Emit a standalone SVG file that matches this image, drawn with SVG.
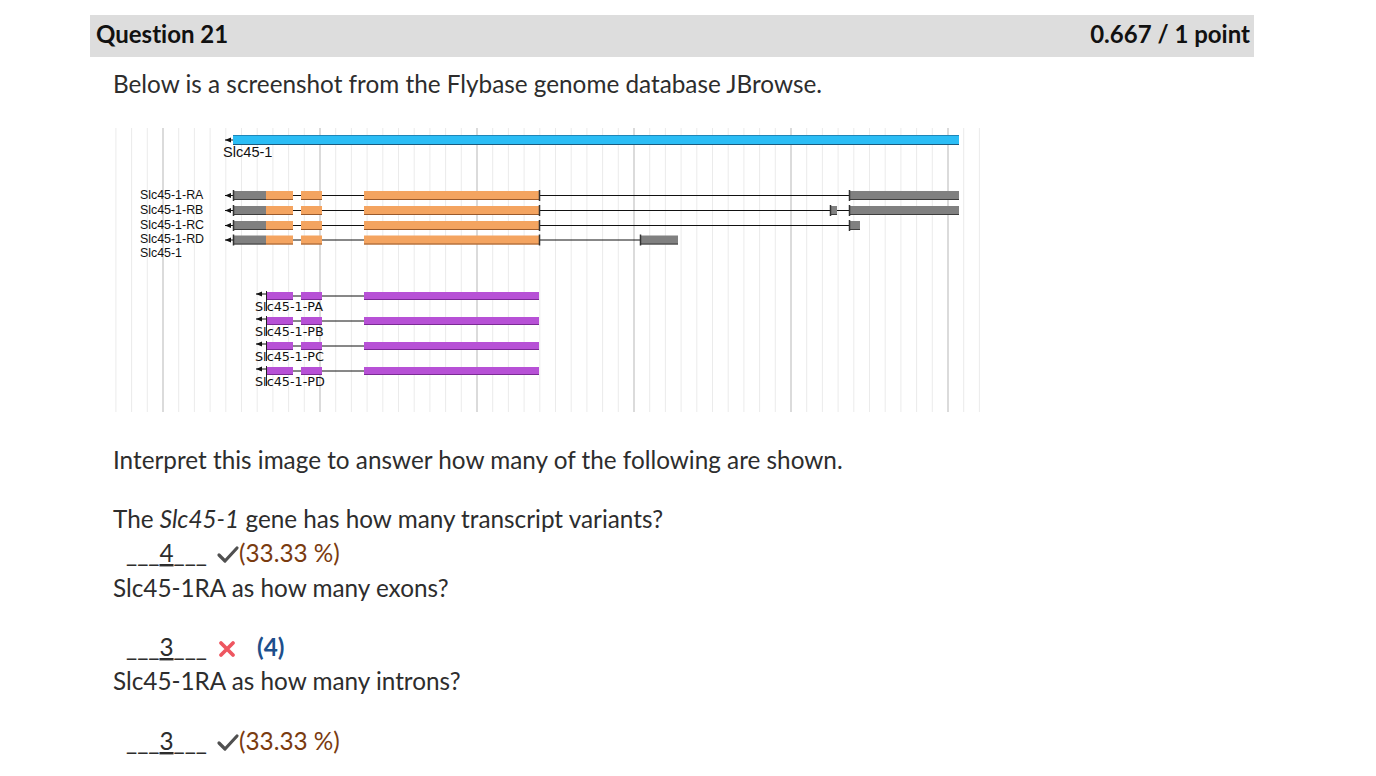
<svg xmlns="http://www.w3.org/2000/svg" width="1376" height="776" viewBox="0 0 1376 776">
<defs>
<style>
.pg{font-family:Lato,"Liberation Sans",sans-serif;font-size:24.3px;fill:#2d2d2d;font-variant-ligatures:none}
.hd{font-family:Lato,"Liberation Sans",sans-serif;font-size:24px;font-weight:bold;fill:#111;font-variant-ligatures:none}
.lbl{font-family:"Liberation Sans",Arial,sans-serif;font-size:12.4px;fill:#111}
.glbl{font-family:"Liberation Sans",Arial,sans-serif;font-size:14.6px;fill:#111}
.plbl{font-family:"DejaVu Sans",sans-serif;font-size:12.8px;fill:#111}
.minor{stroke:#ebebeb;stroke-width:1;fill:none}
.major{stroke:#c4c4c4;stroke-width:1.2;fill:none}
.ln{stroke:#111;stroke-width:1;fill:none}
.cap{stroke:#333;stroke-width:1.5}
.utr{fill:#808080}
.cds{fill:#f4a460}
.pep{fill:#b751d6}
.gene{fill:#2bbdf5}
.ue{stroke:#3d3d3d;stroke-width:1.2}
.ce{stroke:#9a5a2c;stroke-width:1.2}
.pe{stroke:#7b2a95;stroke-width:1.2}
.brown{fill:#7a3b10}
</style>
<marker id="ah" viewBox="0 0 6 6" refX="0" refY="3" markerWidth="6" markerHeight="6" orient="0" markerUnits="userSpaceOnUse">
<path d="M0 3 L6 0.5 L6 5.5 Z" fill="#111"/>
</marker>
</defs>
<rect width="1376" height="776" fill="#fff"/>

<g id="header">
<rect x="90" y="15" width="1164" height="42" fill="#dddddd"/>
<text class="hd" x="96" y="43">Question 21</text>
<text class="hd" x="1250" y="43" text-anchor="end">0.667 / 1 point</text>
</g>

<text class="pg" x="113" y="93">Below is a screenshot from the Flybase genome database JBrowse.</text>

<g id="jbrowse">
<path class="minor" d="M115.9 128V412M131.6 128V412M147.3 128V412M178.7 128V412M194.4 128V412M210.1 128V412M225.8 128V412M241.5 128V412M257.2 128V412M272.9 128V412M288.6 128V412M304.3 128V412M335.7 128V412M351.4 128V412M367.1 128V412M382.8 128V412M398.5 128V412M414.2 128V412M429.9 128V412M445.6 128V412M461.3 128V412M492.7 128V412M508.4 128V412M524.1 128V412M539.8 128V412M555.5 128V412M571.2 128V412M586.9 128V412M602.6 128V412M618.3 128V412M649.7 128V412M665.4 128V412M681.1 128V412M696.8 128V412M712.5 128V412M728.2 128V412M743.9 128V412M759.6 128V412M775.3 128V412M806.7 128V412M822.4 128V412M838.1 128V412M853.8 128V412M869.5 128V412M885.2 128V412M900.9 128V412M916.6 128V412M932.3 128V412M963.7 128V412M979.4 128V412"/>
<path class="major" d="M163 128V412M320 128V412M477 128V412M634 128V412M791 128V412M948 128V412"/>

<g id="gene">
<line class="ln" x1="225" y1="140" x2="233" y2="140" marker-start="url(#ah)"/>
<rect class="gene" x="233" y="135" width="726" height="10"/>
<line x1="233" y1="135.5" x2="959" y2="135.5" stroke="#1f86b8" stroke-width="1"/>
<line x1="233" y1="144.5" x2="959" y2="144.5" stroke="#1a5a7e" stroke-width="1.2"/>
<text class="glbl" x="223" y="157">Slc45-1</text>
</g>

<g id="labels">
<text class="lbl" x="140" y="199">Slc45-1-RA</text>
<text class="lbl" x="140" y="214">Slc45-1-RB</text>
<text class="lbl" x="140" y="229">Slc45-1-RC</text>
<text class="lbl" x="140" y="243">Slc45-1-RD</text>
<text class="lbl" x="140" y="257">Slc45-1</text>
</g>

<g id="RA">
<line class="ln" x1="225" y1="195.5" x2="233" y2="195.5" marker-start="url(#ah)"/>
<path class="ln" d="M293 195.5H301M322 195.5H364M540 195.5H849"/>
<rect class="utr" x="233" y="191" width="33" height="9"/>
<rect class="cds" x="266" y="191" width="27" height="9"/>
<rect class="cds" x="301" y="191" width="21" height="9"/>
<rect class="cds" x="364" y="191" width="176" height="9"/>
<rect class="utr" x="849" y="191" width="110" height="9"/>
<path class="ue" d="M233 199.5H266M849 199.5H959"/>
<path class="ce" d="M266 199.5H293M301 199.5H322M364 199.5H540"/>
<path class="cap" d="M233.5 190V201M539.5 190V201M849.5 190V201"/>
</g>

<g id="RB">
<line class="ln" x1="225" y1="210.5" x2="233" y2="210.5" marker-start="url(#ah)"/>
<path class="ln" d="M293 210.5H301M322 210.5H364M540 210.5H849"/>
<rect class="utr" x="233" y="206" width="33" height="9"/>
<rect class="cds" x="266" y="206" width="27" height="9"/>
<rect class="cds" x="301" y="206" width="21" height="9"/>
<rect class="cds" x="364" y="206" width="176" height="9"/>
<rect class="utr" x="830" y="206" width="7" height="9"/>
<rect class="utr" x="849" y="206" width="110" height="9"/>
<path class="ue" d="M233 214.5H266M830 214.5H837M849 214.5H959"/>
<path class="ce" d="M266 214.5H293M301 214.5H322M364 214.5H540"/>
<path class="cap" d="M233.5 205V216M539.5 205V216M830.5 205V216M849.5 205V216"/>
</g>

<g id="RC">
<line class="ln" x1="225" y1="225.5" x2="233" y2="225.5" marker-start="url(#ah)"/>
<path class="ln" d="M293 225.5H301M322 225.5H364M540 225.5H849"/>
<rect class="utr" x="233" y="221" width="33" height="9"/>
<rect class="cds" x="266" y="221" width="27" height="9"/>
<rect class="cds" x="301" y="221" width="21" height="9"/>
<rect class="cds" x="364" y="221" width="176" height="9"/>
<rect class="utr" x="849" y="221" width="11" height="9"/>
<path class="ue" d="M233 229.5H266M849 229.5H860"/>
<path class="ce" d="M266 229.5H293M301 229.5H322M364 229.5H540"/>
<path class="cap" d="M233.5 220V231M539.5 220V231M849.5 220V231"/>
</g>

<g id="RD">
<line class="ln" x1="225" y1="240" x2="233" y2="240" marker-start="url(#ah)"/>
<path class="ln" d="M293 240H301M322 240H364M540 240H640"/>
<rect class="utr" x="233" y="235.5" width="33" height="9"/>
<rect class="cds" x="266" y="235.5" width="27" height="9"/>
<rect class="cds" x="301" y="235.5" width="21" height="9"/>
<rect class="cds" x="364" y="235.5" width="176" height="9"/>
<rect class="utr" x="640" y="235.5" width="38" height="9"/>
<path class="ue" d="M233 244H266M640 244H678"/>
<path class="ce" d="M266 244H293M301 244H322M364 244H540"/>
<path class="cap" d="M233.5 234.5V245.5M539.5 234.5V245.5M640.5 234.5V245.5"/>
</g>

<g id="PA">
<line class="ln" x1="256" y1="294" x2="266" y2="294" marker-start="url(#ah)"/>
<path class="ln" d="M293 296H301M322 296H364"/>
<rect class="pep" x="266" y="292" width="27" height="8"/>
<rect class="pep" x="301" y="292" width="21" height="8"/>
<rect class="pep" x="364" y="292" width="175" height="8"/>
<path class="pe" d="M266 299.5H293M301 299.5H322M364 299.5H539"/>
<line x1="266.5" y1="291" x2="266.5" y2="311" stroke="#222" stroke-width="1"/>
<text class="plbl" x="255" y="311">Slc45-1-PA</text>
</g>

<g id="PB">
<line class="ln" x1="256" y1="319" x2="266" y2="319" marker-start="url(#ah)"/>
<path class="ln" d="M293 321H301M322 321H364"/>
<rect class="pep" x="266" y="317" width="27" height="8"/>
<rect class="pep" x="301" y="317" width="21" height="8"/>
<rect class="pep" x="364" y="317" width="175" height="8"/>
<path class="pe" d="M266 324.5H293M301 324.5H322M364 324.5H539"/>
<line x1="266.5" y1="316" x2="266.5" y2="336" stroke="#222" stroke-width="1"/>
<text class="plbl" x="255" y="336">Slc45-1-PB</text>
</g>

<g id="PC">
<line class="ln" x1="256" y1="344" x2="266" y2="344" marker-start="url(#ah)"/>
<path class="ln" d="M293 346H301M322 346H364"/>
<rect class="pep" x="266" y="342" width="27" height="8"/>
<rect class="pep" x="301" y="342" width="21" height="8"/>
<rect class="pep" x="364" y="342" width="175" height="8"/>
<path class="pe" d="M266 349.5H293M301 349.5H322M364 349.5H539"/>
<line x1="266.5" y1="341" x2="266.5" y2="361" stroke="#222" stroke-width="1"/>
<text class="plbl" x="255" y="361">Slc45-1-PC</text>
</g>

<g id="PD">
<line class="ln" x1="256" y1="369" x2="266" y2="369" marker-start="url(#ah)"/>
<path class="ln" d="M293 371H301M322 371H364"/>
<rect class="pep" x="266" y="367" width="27" height="8"/>
<rect class="pep" x="301" y="367" width="21" height="8"/>
<rect class="pep" x="364" y="367" width="175" height="8"/>
<path class="pe" d="M266 374.5H293M301 374.5H322M364 374.5H539"/>
<line x1="266.5" y1="366" x2="266.5" y2="386" stroke="#222" stroke-width="1"/>
<text class="plbl" x="255" y="386">Slc45-1-PD</text>
</g>
</g>

<g id="questions">
<text class="pg" x="113" y="469">Interpret this image to answer how many of the following are shown.</text>
<text class="pg" x="113" y="528">The <tspan font-style="italic">Slc45-1</tspan> gene has how many transcript variants?</text>

<text class="pg" x="126" y="562">___<tspan text-decoration="underline">4</tspan>___</text>
<path d="M219 555 L225 561 L237 548" fill="none" stroke="#505050" stroke-width="3.2" stroke-linecap="round" stroke-linejoin="round"/>
<text class="pg brown" x="239" y="562">(33.33 %)</text>

<text class="pg" x="113" y="597">Slc45-1RA as how many exons?</text>

<text class="pg" x="126" y="656">___<tspan text-decoration="underline">3</tspan>___</text>
<path d="M221 643 L233 655 M233 643 L221 655" fill="none" stroke="#ee5660" stroke-width="3.8" stroke-linecap="round"/>
<text class="pg" x="257" y="656" font-weight="bold" style="fill:#1d4f8c">(4)</text>

<text class="pg" x="113" y="690">Slc45-1RA as how many introns?</text>

<text class="pg" x="126" y="750">___<tspan text-decoration="underline">3</tspan>___</text>
<path d="M219 743 L225 749 L237 736" fill="none" stroke="#505050" stroke-width="3.2" stroke-linecap="round" stroke-linejoin="round"/>
<text class="pg brown" x="239" y="750">(33.33 %)</text>
</g>
</svg>
